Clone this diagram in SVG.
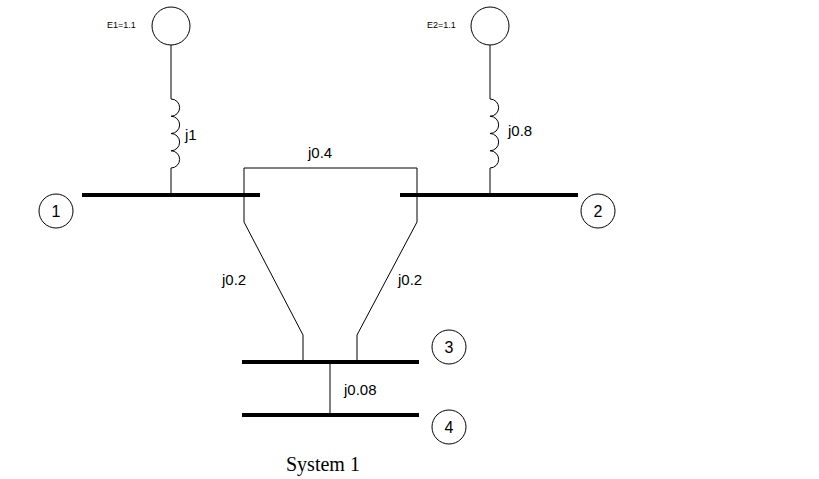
<svg xmlns="http://www.w3.org/2000/svg" width="819" height="479" viewBox="0 0 819 479">
<style>
.w{stroke:#000;stroke-width:1;fill:none}
.bus{stroke:#000;stroke-width:4;fill:none}
.c{stroke:#000;stroke-width:1;fill:#fff}
.t{font-family:"Liberation Sans",Arial,sans-serif;font-size:15px;fill:#000}
.s{font-family:"Liberation Sans",Arial,sans-serif;font-size:9px;fill:#000}
.n{font-family:"Liberation Sans",Arial,sans-serif;font-size:16px;fill:#000;text-anchor:middle}
</style>
<rect width="819" height="479" fill="#fff"/>
<g id="connectors">
<path class="w" d="M171 45V99a4.3 4.3 0 0 1 0 17.25a4.3 4.3 0 0 1 0 17.25a4.3 4.3 0 0 1 0 17.25a4.3 4.3 0 0 1 0 17.25V195"/>
<path class="w" d="M490 45V99a4.3 4.3 0 0 1 0 17.25a4.3 4.3 0 0 1 0 17.25a4.3 4.3 0 0 1 0 17.25a4.3 4.3 0 0 1 0 17.25V195"/>
<path class="w" d="M244 195V168H417V195"/>
<path class="w" d="M244 195V222L303 335V362"/>
<path class="w" d="M417 195V222L357 335V362"/>
<path class="w" d="M330 362V415"/>
</g>
<g id="gen1"><circle class="c" cx="171" cy="26" r="19"/><text class="s" x="107" y="28">E1=1.1</text></g>
<g id="gen2"><circle class="c" cx="490" cy="26" r="19"/><text class="s" x="427" y="28">E2=1.1</text></g>
<g id="bus1"><path class="bus" d="M82 195H260"/><circle class="c" cx="56" cy="211" r="17"/><text class="n" x="56" y="217">1</text></g>
<g id="bus2"><path class="bus" d="M400 195H578"/><circle class="c" cx="598" cy="211" r="17"/><text class="n" x="598" y="217">2</text></g>
<g id="bus3"><path class="bus" d="M242 362H419"/><circle class="c" cx="449" cy="347" r="17"/><text class="n" x="449" y="353">3</text></g>
<g id="bus4"><path class="bus" d="M242 415H419"/><circle class="c" cx="449" cy="427" r="17"/><text class="n" x="449" y="433">4</text></g>
<g id="labels">
<text class="t" x="185" y="140">j1</text>
<text class="t" x="508" y="136">j0.8</text>
<text class="t" x="308" y="158">j0.4</text>
<text class="t" x="222" y="285">j0.2</text>
<text class="t" x="398" y="285">j0.2</text>
<text class="t" x="344" y="395">j0.08</text>
<text x="286" y="471" style="font-family:'Liberation Serif',serif;font-size:20px">System 1</text>
</g>
</svg>
